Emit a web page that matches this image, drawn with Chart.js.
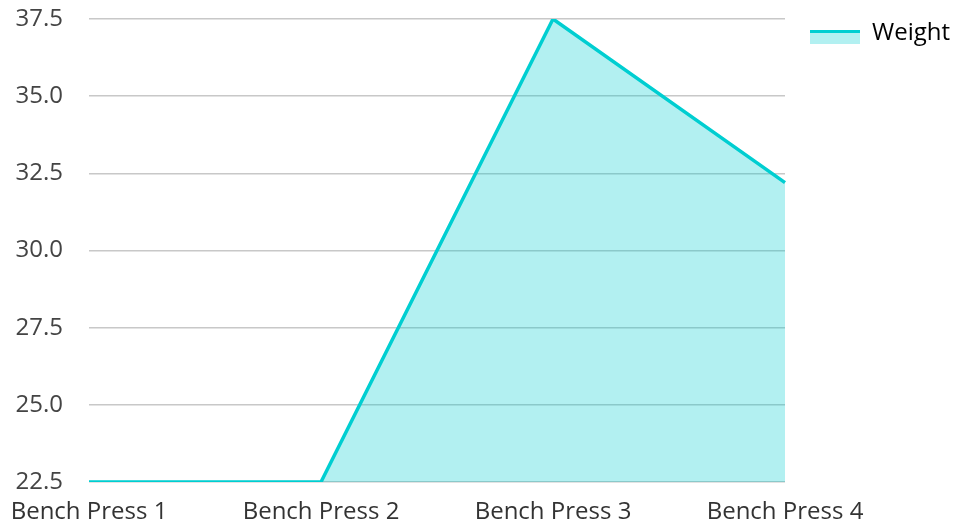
<!DOCTYPE html>
<html>
<head>
<meta charset="utf-8">
<script src="https://cdn.jsdelivr.net/npm/chart.js@4"></script>
<style>
  html, body { margin: 0; padding: 0; background: #fff; }
  #wrap { width: 953px; height: 521px; position: relative; }
</style>
</head>
<body>
<div id="wrap"><canvas id="chart"></canvas></div>
<script>
const labels = ["Bench Press 1", "Bench Press 2", "Bench Press 3", "Bench Press 4"];
const weight = [22.5, 22.5, 37.5, 32.2];
const yMin = 22.5, yMax = 37.5, yStep = 2.5;

const lineColor = "#00CED1";
const fillColor = "rgba(0, 206, 209, 0.3)";

// legend swatch: light fill with a thick line along its top
const legendSwatch = {
  id: "legendSwatch",
  afterDraw(chart) {
    const lg = chart.legend;
    if (!lg || !lg.legendHitBoxes) return;
    const ctx = chart.ctx;
    lg.legendHitBoxes.forEach((b) => {
      const top = Math.round(b.top + b.height / 2 - 3);
      ctx.save();
      ctx.fillStyle = fillColor;
      ctx.fillRect(b.left, top, 50, 14);
      ctx.fillStyle = lineColor;
      ctx.fillRect(b.left, top, 50, 3);
      ctx.restore();
    });
  },
};

Chart.defaults.font.family = "'Open Sans', 'Noto Sans', sans-serif";
Chart.defaults.font.size = 24;
Chart.defaults.color = "#444";

new Chart(document.getElementById("chart"), {
  type: "line",
  data: {
    labels: labels,
    datasets: [
      {
        label: "Weight",
        data: weight,
        borderColor: lineColor,
        backgroundColor: fillColor,
        borderWidth: 3.5,
        pointRadius: 0,
        tension: 0,
        fill: "origin",
      },
    ],
  },
  options: {
    responsive: true,
    maintainAspectRatio: false,
    animation: false,
    layout: { padding: { top: -4, right: -7, bottom: 2, left: 0 } },
    plugins: {
      legend: {
        position: "right",
        align: "start",
        labels: {
          boxWidth: 50,
          boxHeight: 14,
          padding: 25,
          color: "#222",
          font: { size: 24 },
          generateLabels: (chart) => [
            {
              text: "Weight",
              fillStyle: "rgba(0,0,0,0)",
              strokeStyle: "rgba(0,0,0,0)",
              lineWidth: 0,
              datasetIndex: 0,
            },
          ],
        },
      },
      tooltip: { enabled: false },
    },
    scales: {
      x: {
        offset: false,
        grid: { display: false, drawTicks: false },
        border: { display: false },
        ticks: { padding: 16, color: "#333", maxRotation: 0, autoSkip: false },
        afterFit: (s) => {
          s.paddingLeft = 0;
          s.paddingRight = 0;
          s.height = 37;
        },
      },
      y: {
        min: yMin,
        max: yMax,
        grid: { color: "#c8c8c8", lineWidth: 1.5, drawTicks: false },
        border: { display: false },
        ticks: { stepSize: yStep, padding: 26, color: "#444", callback: (v) => v.toFixed(1) },
        afterFit: (s) => {
          s.paddingTop = 19;
          s.paddingBottom = 0;
          s.width = 89;
        },
      },
    },
  },
  plugins: [legendSwatch],
});
</script>
</body>
</html>
